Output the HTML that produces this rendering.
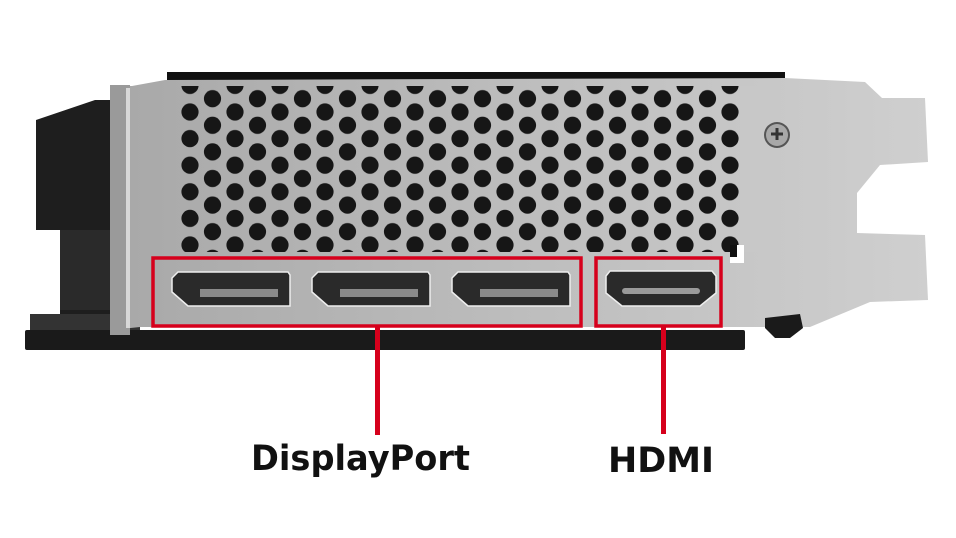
<!DOCTYPE html>
<html><head><style>
html,body{margin:0;padding:0;background:#fff;width:956px;height:538px;overflow:hidden}
svg{display:block}
text{font-family:"DejaVu Sans","Liberation Sans",sans-serif;font-weight:bold}
</style></head><body>
<svg width="956" height="538" viewBox="0 0 956 538" xmlns="http://www.w3.org/2000/svg">
<defs>
<linearGradient id="pl" x1="0" y1="0" x2="1" y2="0">
<stop offset="0" stop-color="#a8a8a8"/><stop offset="0.5" stop-color="#bdbdbd"/><stop offset="1" stop-color="#cfcfcf"/>
</linearGradient>
<pattern id="holes" patternUnits="userSpaceOnUse" x="190" y="112" width="45" height="26.6">
<circle cx="0" cy="0" r="8.6" fill="#161616"/><circle cx="45" cy="0" r="8.6" fill="#161616"/>
<circle cx="22.5" cy="13.3" r="8.6" fill="#161616"/>
<circle cx="0" cy="26.6" r="8.6" fill="#161616"/><circle cx="45" cy="26.6" r="8.6" fill="#161616"/>
</pattern>
</defs>
<path d="M36 120 L95 100 L130 100 L130 330 L60 330 L60 230 L36 230 Z" fill="#1e1e1e"/>
<rect x="60" y="230" width="50" height="80" fill="#2a2a2a"/>
<rect x="30" y="314" width="110" height="16" fill="#333"/>
<rect x="25" y="330" width="720" height="20" rx="2" fill="#1a1a1a"/>
<rect x="167" y="72" width="618" height="10" fill="#111"/>
<path d="M112 86 L132 86 L165 80 L785 78 L865 82 L882 98 L925 98 L928 162 L880 165 L857 193 L857 233 L925 235 L928 300 L870 302 L810 327 L140 327 L112 330 Z" fill="url(#pl)"/>
<rect x="110" y="85" width="20" height="250" fill="#9a9a9a"/>
<rect x="126" y="88" width="4" height="240" fill="#d8d8d8"/>
<rect x="178" y="86" width="562" height="166" fill="url(#holes)"/>
<rect x="740" y="86" width="20" height="166" fill="#c8c8c8"/>
<circle cx="777" cy="135" r="13" fill="#555"/><circle cx="777" cy="135" r="11" fill="#a8a8a8"/>
<path d="M771 134h12M777 128v12" stroke="#333" stroke-width="3"/>
<rect x="730" y="245" width="14" height="18" fill="#fff"/><rect x="730" y="245" width="7" height="12" fill="#111"/>
<path d="M765 318 L800 314 L803 328 L790 338 L775 338 L765 328 Z" fill="#1a1a1a"/>
<g fill="#2a2a2a" stroke="#eee" stroke-width="1.5">
<path d="M178 272 L288 272 L290 275 L290 306 L188 306 L172 292 L172 278 Z"/>
<path d="M318 272 L428 272 L430 275 L430 306 L328 306 L312 292 L312 278 Z"/>
<path d="M458 272 L568 272 L570 275 L570 306 L468 306 L452 292 L452 278 Z"/>
</g>
<g fill="#8a8a8a">
<rect x="200" y="289" width="78" height="8"/><rect x="340" y="289" width="78" height="8"/><rect x="480" y="289" width="78" height="8"/>
</g>
<path d="M610 271 L712 271 L716 276 L716 293 L700 306 L622 306 L606 293 L606 276 Z" fill="#2a2a2a" stroke="#eee" stroke-width="1.5"/>
<rect x="622" y="288" width="78" height="6" rx="3" fill="#9a9a9a"/>
<g fill="none" stroke="#d6001c" stroke-width="3.5">
<rect x="153" y="258" width="428" height="68"/>
<rect x="596" y="258" width="125" height="68"/>
</g>
<rect x="375" y="327" width="5" height="108" fill="#d6001c"/>
<rect x="661" y="327" width="5" height="107" fill="#d6001c"/>
<text x="251" y="470" font-size="35" textLength="219" lengthAdjust="spacingAndGlyphs" fill="#111">DisplayPort</text>
<text x="608" y="472" font-size="35" textLength="106" lengthAdjust="spacingAndGlyphs" fill="#111">HDMI</text>
</svg>
</body></html>
